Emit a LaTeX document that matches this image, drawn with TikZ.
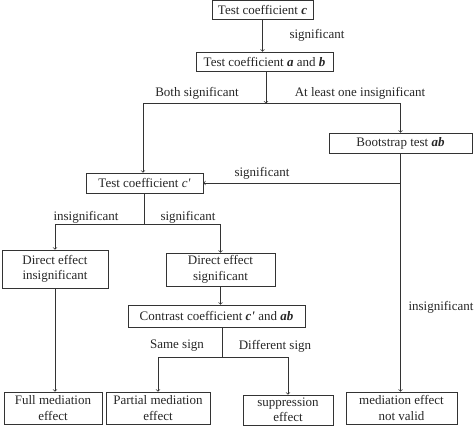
\documentclass[tikz,border=0pt]{standalone}
\usepackage{fontspec}
\setmainfont{Liberation Serif}
\usetikzlibrary{calc}
\def\bi#1{\textbf{\textit{#1}}}

\begin{document}
\begin{tikzpicture}[x=1pt, y=-1pt, line width=0.7pt, color=black!85,
		font=\fontsize{13}{15.5}\selectfont,
		box/.style={draw=black!80, inner sep=0pt, align=center},
		conn/.style={draw=black!80, ->},
		lbl/.style={inner sep=1pt}]
			%%%%% START %%%%%
			\useasboundingbox (0, 0) rectangle (474, 426);
			
			\node[box, minimum width=101pt, minimum height=19pt] (tc) at (262.5, 9.5) {Test coefficient \bi{c}};
			\node[box, minimum width=137pt, minimum height=19pt] (tab) at (264.5, 61.5) {Test coefficient \bi{a} and \bi{b}};
			\node[box, minimum width=143pt, minimum height=20pt] (boot) at (400.5, 143) {Bootstrap test \bi{ab}};
			\node[box, minimum width=117pt, minimum height=20pt] (tcp) at (144.5, 183) {Test coefficient \textit{c\textquotesingle}};
			
			\node[box, minimum width=106pt, minimum height=38pt] (dei) at (55, 269) {Direct effect\\insignificant};
			\node[box, minimum width=109pt, minimum height=33pt] (des) at (220.5, 269.5) {Direct effect\\significant};
			\node[box, minimum width=177pt, minimum height=22pt] (con) at (216.5, 316) {Contrast coefficient \bi{c\textquotesingle} and \bi{ab}};
			
			\node[box, minimum width=98pt, minimum height=32pt] (full) at (53, 408) {Full mediation\\effect};
			\node[box, minimum width=104pt, minimum height=32pt] (part) at (158, 408) {Partial mediation\\effect};
			\node[box, minimum width=90pt, minimum height=30pt] (supp) at (288, 410) {suppression\\effect};
			\node[box, minimum width=111pt, minimum height=32pt] (med) at (401.5, 408) {mediation effect\\not valid};
			
			%%%%% junctions
			\coordinate (j1) at (266, 103.5);
			\coordinate (j1l) at (143, 103.5);
			\coordinate (j1r) at (400.5, 103.5);
			\coordinate (j2) at (144, 224);
			\coordinate (j3) at (222, 357);
			
			\draw[conn] (tc.south) -- (tc.south |- tab.north);
			\draw[conn] (tab.south -| j1) -- (j1);
			\draw[draw=black!80] (j1l) -- (j1r);
			\draw[conn] (j1l) -- (j1l |- tcp.north);
			\draw[conn] (j1r) -- (boot.north);
			\draw[conn] (boot.south) -- (boot.south |- med.north);
			\draw[conn] (boot.south |- tcp.east) -- (tcp.east);
			
			\draw[draw=black!80] (tcp.south -| j2) -- (j2);
			\draw[draw=black!80] (dei.north |- j2) -- (des.north |- j2);
			\draw[conn] (dei.north |- j2) -- (dei.north);
			\draw[conn] (des.north |- j2) -- (des.north);
			\draw[conn] (des.south) -- (des.south |- con.north);
			\draw[conn] (dei.south) -- (dei.south |- full.north);
			
			\draw[draw=black!80] (con.south -| j3) -- (j3);
			\draw[draw=black!80] (part.north |- j3) -- (supp.north |- j3);
			\draw[conn] (part.north |- j3) -- (part.north);
			\draw[conn] (supp.north |- j3) -- (supp.north);
			
			%%%%% labels
			\node[lbl] (ltc) at (317, 35) {significant};
			\node[lbl] (lboth) at (197, 93) {Both significant};
			\node[lbl] (lone) at (360, 93) {At least one insignificant};
			\node[lbl] (lboot) at (262, 173) {significant};
			\node[lbl] (lnot) at (441, 307) {insignificant};
			\node[lbl] (ldei) at (86, 217) {insignificant};
			\node[lbl] (ldes) at (188, 217) {significant};
			\node[lbl] (lsame) at (177, 346) {Same sign};
			\node[lbl] (ldiff) at (275, 346) {Different sign};
			%%%%% END %%%%%
		\end{tikzpicture}
\end{document}
